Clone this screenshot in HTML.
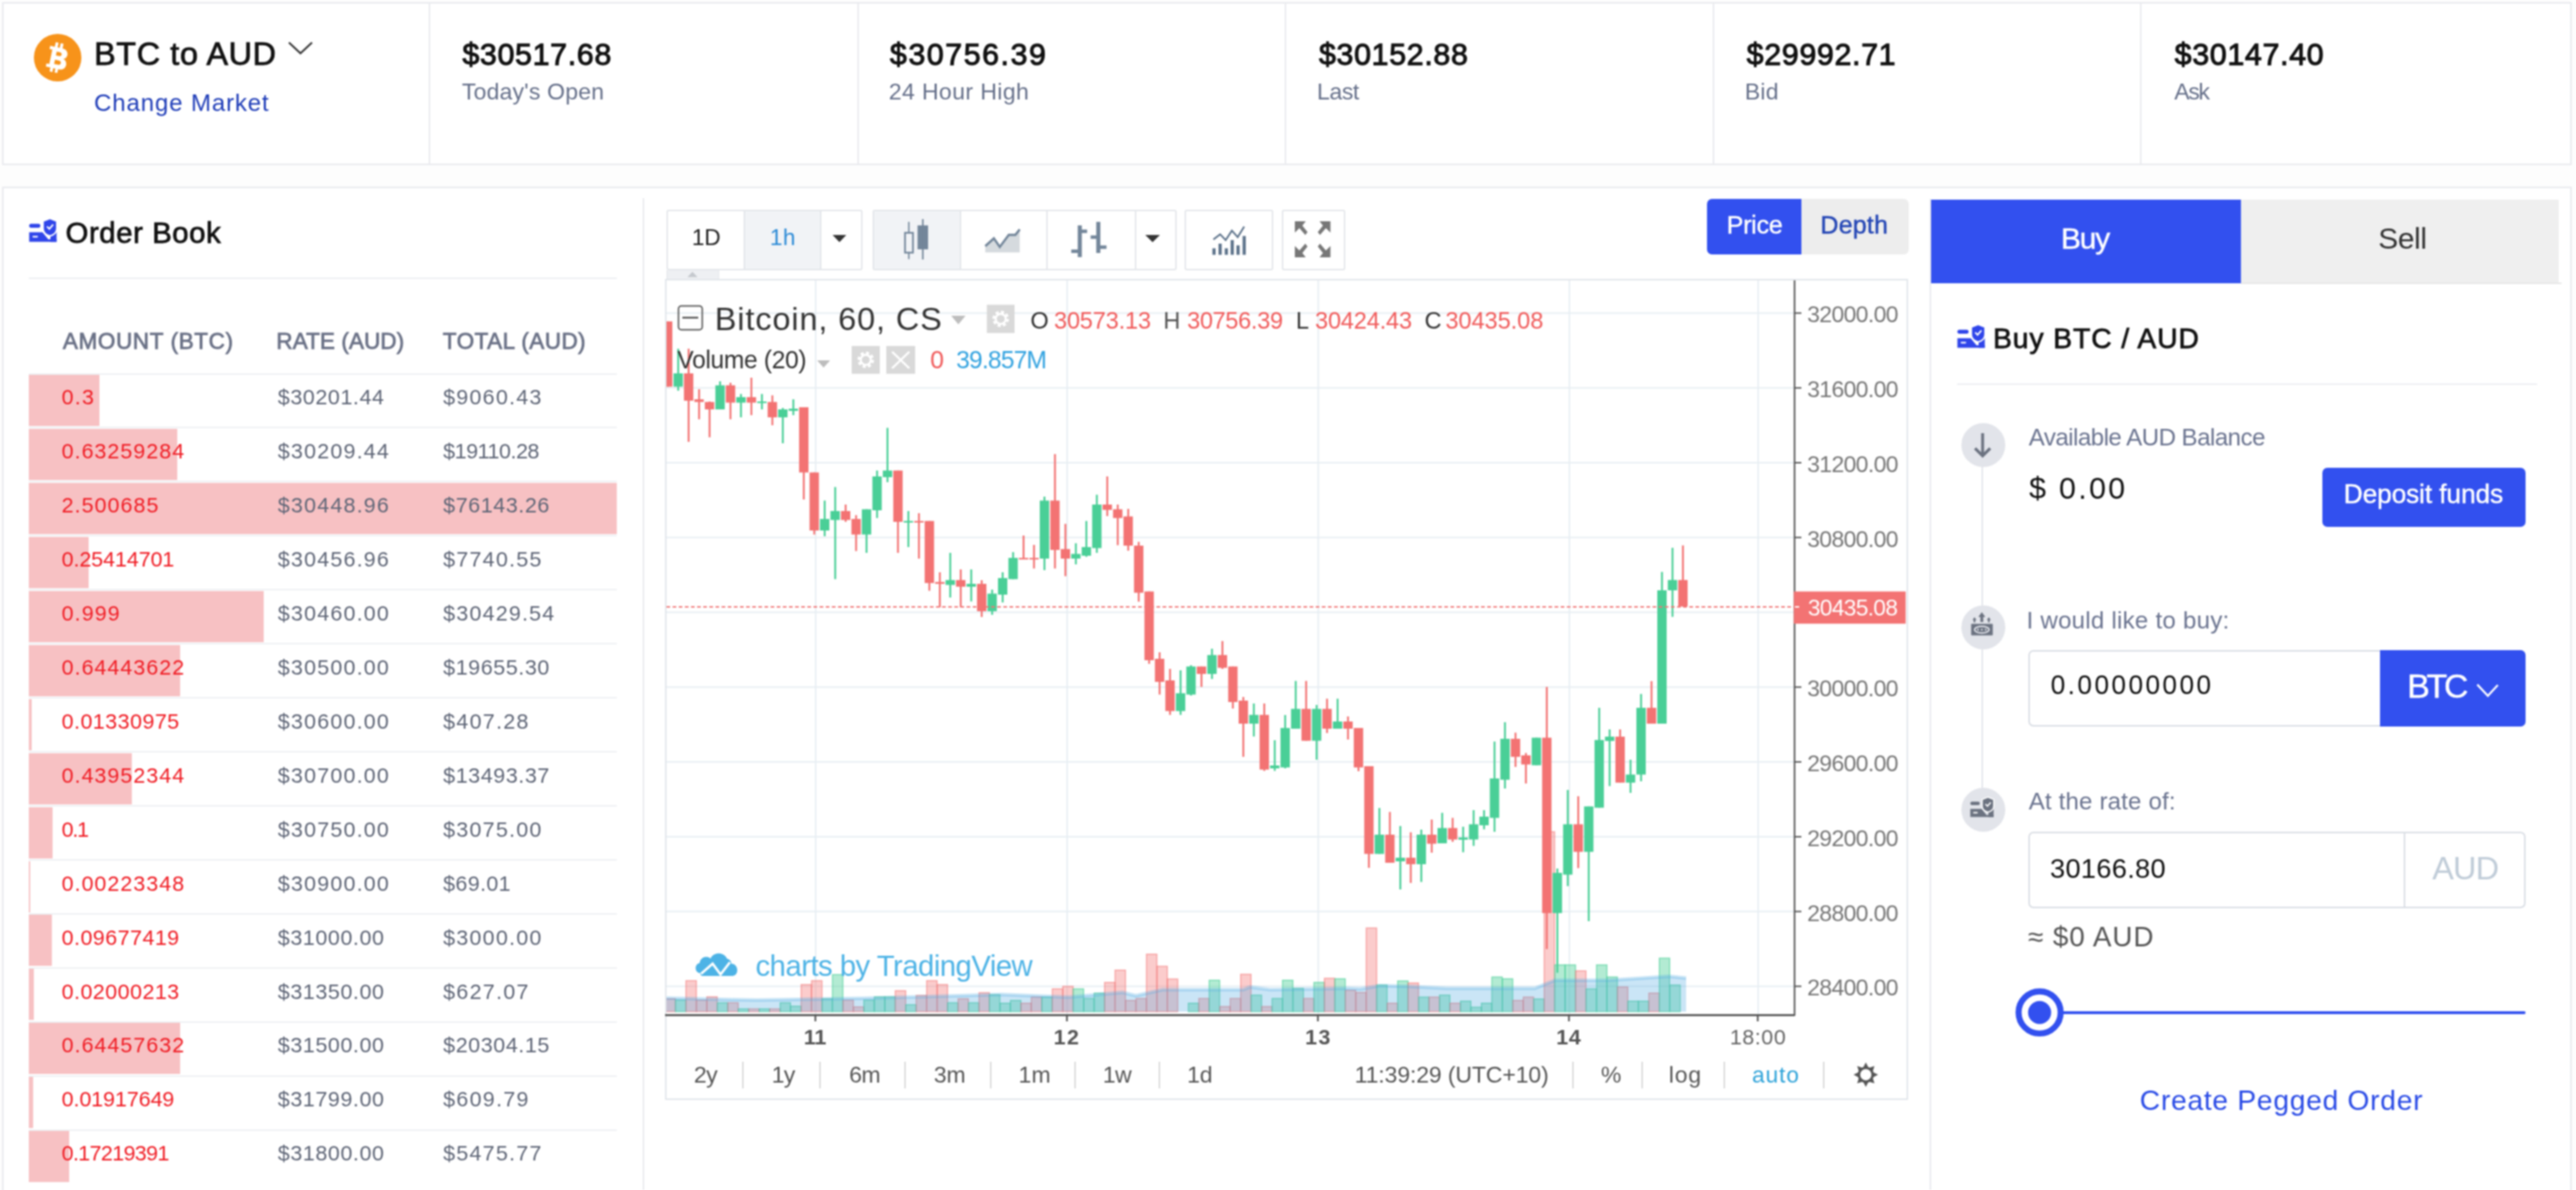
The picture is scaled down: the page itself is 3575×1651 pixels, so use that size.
<!DOCTYPE html>
<html><head><meta charset="utf-8"><title>BTC to AUD</title>
<style>
html,body{margin:0;padding:0;background:#fdfdfd;}
body{width:3575px;height:1651px;overflow:hidden;position:relative;font-family:"Liberation Sans",sans-serif;}
.a{position:absolute;}
.t{position:absolute;white-space:nowrap;line-height:100px;height:100px;}
svg.a{overflow:visible}
#wrap{position:absolute;left:0;top:0;width:3575px;height:1651px;filter:blur(0.8px);}
</style></head><body><div id="wrap">
<div class="a" style="left:3px;top:3px;width:3566px;height:226px;border:2px solid #e8e9ee;box-sizing:border-box;background:#fff"></div>
<div class="a" style="left:595px;top:4px;width:2px;height:224px;background:#e8e9ee"></div>
<div class="a" style="left:1190px;top:4px;width:2px;height:224px;background:#e8e9ee"></div>
<div class="a" style="left:1783px;top:4px;width:2px;height:224px;background:#e8e9ee"></div>
<div class="a" style="left:2377px;top:4px;width:2px;height:224px;background:#e8e9ee"></div>
<div class="a" style="left:2970px;top:4px;width:2px;height:224px;background:#e8e9ee"></div>
<svg class="a" style="left:47px;top:47px" width="66" height="66" viewBox="0 0 66 66">
<circle cx="33" cy="33" r="33" fill="#f7931a"/>
<g transform="rotate(12 33 33)" fill="#fff">
<rect x="26" y="12.5" width="4" height="8"/><rect x="33" y="12.5" width="4" height="8"/>
<rect x="26" y="46" width="4" height="8"/><rect x="33" y="46" width="4" height="8"/>
<path d="M19.5 19 H37 C47 19 48 31 41 33 C49 35 49 48.5 38 48.5 H19.5 V44 H23.5 V23.5 H19.5 Z M30 25 V30.5 H34.5 C38.5 30.5 38.5 25 34.5 25 Z M30 36.5 V42.5 H35.5 C40 42.5 40 36.5 35.5 36.5 Z" fill-rule="evenodd"/>
</g></svg>
<svg class="a" style="left:398px;top:56px" width="38" height="22" viewBox="0 0 38 22"><path d="M3 3 L19 18 L35 3" fill="none" stroke="#333" stroke-width="2.4"/></svg>
<div class="a" style="left:3px;top:259px;width:3566px;height:1400px;border:2px solid #e8e9ee;border-bottom:none;box-sizing:border-box;background:#fff"></div>
<div class="a" style="left:892px;top:275px;width:2px;height:1376px;background:#e8e9ee"></div>
<div class="a" style="left:2678px;top:276px;width:2px;height:1375px;background:#e8e9ee"></div>
<svg class="a" style="left:40px;top:302px" width="40" height="36" viewBox="0 0 40 36">
<rect x="0.5" y="8.4" width="15.5" height="5.5" rx="2.7" fill="#2f45ea"/>
<path d="M0.5 20.2 H19 L27 30 H38.5 V33.4 H0.5 Z" fill="#2f45ea"/>
<path d="M30 23 L38.5 19.5 V33.4 H30 Z" fill="#2f45ea"/>
<rect x="5" y="25.2" width="7.7" height="2.2" rx="1.1" fill="#fff"/>
<path d="M29.3 1 L38.8 4.8 V15 C38.8 20.5 34.5 24 29.3 25.5 C24.1 24 19.8 20.5 19.8 15 V4.8 Z" fill="#2f45ea" stroke="#fff" stroke-width="2"/>
<path d="M25.2 12.3 L28.5 15.6 L33.8 9.6" fill="none" stroke="#fff" stroke-width="2.2"/>
</svg>
<div class="a" style="left:40px;top:385px;width:816px;height:2px;background:#eceef2"></div>
<div class="a" style="left:40px;top:517.5px;width:816px;height:2px;background:#eef0f3"></div>
<div class="a" style="left:40px;top:520.0px;width:97.9px;height:71px;background:#f7c1c3"></div>
<div class="a" style="left:40px;top:592.4px;width:816px;height:2px;background:#eef0f3"></div>
<div class="a" style="left:40px;top:594.9px;width:206.4px;height:71px;background:#f7c1c3"></div>
<div class="a" style="left:40px;top:667.4px;width:816px;height:2px;background:#eef0f3"></div>
<div class="a" style="left:40px;top:669.9px;width:816.0px;height:71px;background:#f7c1c3"></div>
<div class="a" style="left:40px;top:742.3px;width:816px;height:2px;background:#eef0f3"></div>
<div class="a" style="left:40px;top:744.8px;width:82.9px;height:71px;background:#f7c1c3"></div>
<div class="a" style="left:40px;top:817.3px;width:816px;height:2px;background:#eef0f3"></div>
<div class="a" style="left:40px;top:819.8px;width:326.0px;height:71px;background:#f7c1c3"></div>
<div class="a" style="left:40px;top:892.2px;width:816px;height:2px;background:#eef0f3"></div>
<div class="a" style="left:40px;top:894.7px;width:210.3px;height:71px;background:#f7c1c3"></div>
<div class="a" style="left:40px;top:967.1px;width:816px;height:2px;background:#eef0f3"></div>
<div class="a" style="left:40px;top:969.6px;width:4.3px;height:71px;background:#f7c1c3"></div>
<div class="a" style="left:40px;top:1042.1px;width:816px;height:2px;background:#eef0f3"></div>
<div class="a" style="left:40px;top:1044.6px;width:143.4px;height:71px;background:#f7c1c3"></div>
<div class="a" style="left:40px;top:1117.0px;width:816px;height:2px;background:#eef0f3"></div>
<div class="a" style="left:40px;top:1119.5px;width:32.6px;height:71px;background:#f7c1c3"></div>
<div class="a" style="left:40px;top:1192.0px;width:816px;height:2px;background:#eef0f3"></div>
<div class="a" style="left:40px;top:1194.5px;width:1.5px;height:71px;background:#f7c1c3"></div>
<div class="a" style="left:40px;top:1266.9px;width:816px;height:2px;background:#eef0f3"></div>
<div class="a" style="left:40px;top:1269.4px;width:31.6px;height:71px;background:#f7c1c3"></div>
<div class="a" style="left:40px;top:1341.8px;width:816px;height:2px;background:#eef0f3"></div>
<div class="a" style="left:40px;top:1344.3px;width:6.5px;height:71px;background:#f7c1c3"></div>
<div class="a" style="left:40px;top:1416.8px;width:816px;height:2px;background:#eef0f3"></div>
<div class="a" style="left:40px;top:1419.3px;width:210.3px;height:71px;background:#f7c1c3"></div>
<div class="a" style="left:40px;top:1491.7px;width:816px;height:2px;background:#eef0f3"></div>
<div class="a" style="left:40px;top:1494.2px;width:6.3px;height:71px;background:#f7c1c3"></div>
<div class="a" style="left:40px;top:1566.7px;width:816px;height:2px;background:#eef0f3"></div>
<div class="a" style="left:40px;top:1569.2px;width:56.2px;height:71px;background:#f7c1c3"></div>
<div class="a" style="left:924.5px;top:291px;width:272.9px;height:84px;border:2px solid #e3e6ea;box-sizing:border-box;border-radius:3px;background:#fff"></div>
<div class="a" style="left:1034.2px;top:293px;width:104.0px;height:80px;background:#f1f3f6"></div>
<div class="a" style="left:1032.2px;top:293px;width:2px;height:80px;background:#e3e6ea"></div>
<div class="a" style="left:1138.2px;top:293px;width:2px;height:80px;background:#e3e6ea"></div>
<div class="a" style="left:1210.5px;top:291px;width:422.1px;height:84px;border:2px solid #e3e6ea;box-sizing:border-box;border-radius:3px;background:#fff"></div>
<div class="a" style="left:1212.5px;top:293px;width:119.1px;height:80px;background:#f1f3f6"></div>
<div class="a" style="left:1331.6px;top:293px;width:2px;height:80px;background:#e3e6ea"></div>
<div class="a" style="left:1452.3px;top:293px;width:2px;height:80px;background:#e3e6ea"></div>
<div class="a" style="left:1574.5px;top:293px;width:2px;height:80px;background:#e3e6ea"></div>
<div class="a" style="left:1644.4px;top:291px;width:122.2px;height:84px;border:2px solid #e3e6ea;box-sizing:border-box;border-radius:3px;background:#fff"></div>
<div class="a" style="left:1779px;top:291px;width:87.6px;height:84px;border:2px solid #e3e6ea;box-sizing:border-box;border-radius:3px;background:#fff"></div>
<div class="a" style="left:924.5px;top:374.5px;width:73.5px;height:13px;background:#eef0f3;border:1px solid #e2e5e9;border-top:none;box-sizing:border-box"></div>
<div class="a" style="left:2368.6px;top:275.6px;width:280.4px;height:77.4px;background:#ededed;border-radius:7px"></div>
<div class="a" style="left:2368.6px;top:275.6px;width:131.4px;height:77.4px;background:#3250ef;border-radius:7px 0 0 7px"></div>
<div class="a" style="left:923px;top:387px;width:1725px;height:1139px;border:2px solid #e1e5ea;box-sizing:border-box"></div>
<div class="a" style="left:1030px;top:1473px;width:2px;height:36.6px;background:#d8d8d8"></div>
<div class="a" style="left:1136.6px;top:1473px;width:2px;height:36.6px;background:#d8d8d8"></div>
<div class="a" style="left:1254.7px;top:1473px;width:2px;height:36.6px;background:#d8d8d8"></div>
<div class="a" style="left:1373.5px;top:1473px;width:2px;height:36.6px;background:#d8d8d8"></div>
<div class="a" style="left:1491px;top:1473px;width:2px;height:36.6px;background:#d8d8d8"></div>
<div class="a" style="left:1608px;top:1473px;width:2px;height:36.6px;background:#d8d8d8"></div>
<div class="a" style="left:2182px;top:1473px;width:2px;height:36.6px;background:#d8d8d8"></div>
<div class="a" style="left:2277.7px;top:1473px;width:2px;height:36.6px;background:#d8d8d8"></div>
<div class="a" style="left:2392px;top:1473px;width:2px;height:36.6px;background:#d8d8d8"></div>
<div class="a" style="left:2530.3px;top:1473px;width:2px;height:36.6px;background:#d8d8d8"></div>
<div class="a" style="left:2680px;top:276.8px;width:430.4px;height:116.4px;background:#3250ef"></div>
<div class="a" style="left:3110.4px;top:276.8px;width:440.4px;height:116.4px;background:#efefef"></div>
<div class="a" style="left:3110.4px;top:392.2px;width:445px;height:2px;background:#e6e6e6"></div>
<svg class="a" style="left:2716px;top:449px" width="40" height="36" viewBox="0 0 40 36">
<rect x="0.5" y="8.4" width="15.5" height="5.5" rx="2.7" fill="#2f45ea"/>
<path d="M0.5 20.2 H19 L27 30 H38.5 V33.4 H0.5 Z" fill="#2f45ea"/>
<path d="M30 23 L38.5 19.5 V33.4 H30 Z" fill="#2f45ea"/>
<rect x="5" y="25.2" width="7.7" height="2.2" rx="1.1" fill="#fff"/>
<path d="M29.3 1 L38.8 4.8 V15 C38.8 20.5 34.5 24 29.3 25.5 C24.1 24 19.8 20.5 19.8 15 V4.8 Z" fill="#2f45ea" stroke="#fff" stroke-width="2"/>
<path d="M25.2 12.3 L28.5 15.6 L33.8 9.6" fill="none" stroke="#fff" stroke-width="2.2"/>
</svg>
<div class="a" style="left:2716px;top:532px;width:805px;height:2px;background:#eceef2"></div>
<div class="a" style="left:2749.5px;top:640px;width:2.2px;height:460px;background:#e2e4ea"></div>
<div class="a" style="left:2721.5px;top:586.5px;width:61px;height:61px;background:#e2e4ea;border-radius:50%"></div>
<div class="a" style="left:2721.5px;top:839.5px;width:61px;height:61px;background:#e2e4ea;border-radius:50%"></div>
<div class="a" style="left:2721.5px;top:1092.5px;width:61px;height:61px;background:#e2e4ea;border-radius:50%"></div>
<svg class="a" style="left:2734px;top:1105px" width="34" height="31" viewBox="0 0 40 36">
<rect x="0.5" y="8.4" width="15.5" height="5.5" rx="2.7" fill="#6b7280"/>
<path d="M0.5 20.2 H19 L27 30 H38.5 V33.4 H0.5 Z" fill="#6b7280"/>
<path d="M30 23 L38.5 19.5 V33.4 H30 Z" fill="#6b7280"/>
<rect x="5" y="25.2" width="7.7" height="2.2" rx="1.1" fill="#fff"/>
<path d="M29.3 1 L38.8 4.8 V15 C38.8 20.5 34.5 24 29.3 25.5 C24.1 24 19.8 20.5 19.8 15 V4.8 Z" fill="#6b7280" stroke="#fff" stroke-width="2"/>
<path d="M25.2 12.3 L28.5 15.6 L33.8 9.6" fill="none" stroke="#fff" stroke-width="2.2"/>
</svg>
<div class="a" style="left:3223px;top:648.7px;width:282.4px;height:82.7px;background:#3250ef;border-radius:7px"></div>
<div class="a" style="left:2814.6px;top:902px;width:690px;height:106px;border:2px solid #d8dce3;border-radius:7px;box-sizing:border-box;background:#fff"></div>
<div class="a" style="left:3303px;top:902px;width:201.6px;height:106px;background:#3250ef;border-radius:0 7px 7px 0"></div>
<svg class="a" style="left:3435px;top:946px" width="34" height="22" viewBox="0 0 34 22"><path d="M3 3.7 L17.7 19.5 L31.5 4.4" fill="none" stroke="#fff" stroke-width="2.8"/></svg>
<div class="a" style="left:2814.6px;top:1154px;width:690px;height:106px;border:2px solid #d8dce3;border-radius:7px;box-sizing:border-box;background:#fff"></div>
<div class="a" style="left:3336.3px;top:1155px;width:2px;height:104px;background:#d8dce3"></div>
<div class="a" style="left:2830px;top:1402.5px;width:675px;height:4.6px;background:#3250ef;border-radius:2px"></div>
<svg class="a" style="left:2796px;top:1370px" width="70" height="70" viewBox="0 0 70 70"><circle cx="34.6" cy="34.7" r="29.2" fill="#fff" stroke="#3250ef" stroke-width="8.4"/><circle cx="34.6" cy="34.7" r="16" fill="#3250ef"/></svg>
<svg class="a" style="left:0;top:0" width="3575" height="1651" viewBox="0 0 3575 1651">
<defs><clipPath id="chartclip"><rect x="925" y="389" width="1564" height="1018"/></clipPath></defs>
<path d="M1155.5 326 H1174.5 L1165.0 336 Z" fill="#333"/>
<path d="M1589.4 326 H1609.8 L1599.6 336 Z" fill="#333"/>
<polygon points="954,384.6 968,384.6 961,377" fill="#c5c9ce"/>
<rect x="1256" y="323" width="11" height="27.5" fill="none" stroke="#73869a" stroke-width="2.4"/>
<rect x="1260.3" y="307.8" width="2" height="15" fill="#73869a"/><rect x="1260.3" y="350.5" width="2" height="9" fill="#73869a"/>
<rect x="1273.4" y="312.7" width="14.6" height="33.2" fill="#73869a"/><rect x="1279.6" y="304" width="2.2" height="56" fill="#73869a"/>
<path d="M1367.4 350.2 V341.5 L1379.3 330.7 L1387.5 342.6 L1400 325.8 H1409.2 L1415.2 318.2 V350.2 Z" fill="#d5dade"/>
<path d="M1367.4 341.5 L1379.3 330.7 L1387.5 342.6 L1400 325.8 H1409.2 L1415.2 318.2" fill="none" stroke="#73869a" stroke-width="3.2"/>
<rect x="1495.7" y="312.7" width="5.7" height="44" fill="#73869a"/><rect x="1486.7" y="346.2" width="11" height="4.8" fill="#73869a"/><rect x="1500" y="318.5" width="8.7" height="4.8" fill="#73869a"/>
<rect x="1521.4" y="307.8" width="5.7" height="43.2" fill="#73869a"/><rect x="1513.6" y="326.6" width="9" height="4.8" fill="#73869a"/><rect x="1526" y="340.5" width="9.6" height="4.8" fill="#73869a"/>
<rect x="1682.6" y="344.5" width="4.4" height="9.0" fill="#5b7189"/>
<rect x="1691.1" y="338" width="4.4" height="15.5" fill="#5b7189"/>
<rect x="1699.7" y="344.5" width="4.4" height="9.0" fill="#5b7189"/>
<rect x="1707.8999999999999" y="333.1" width="4.4" height="20.399999999999977" fill="#5b7189"/>
<rect x="1716.0" y="340.4" width="4.4" height="13.100000000000023" fill="#5b7189"/>
<rect x="1724.5" y="327.4" width="4.4" height="26.100000000000023" fill="#5b7189"/>
<path d="M1684 332.3 L1693.3 325 L1701 333.1 L1709.6 320 L1717.7 329 L1726.7 314.3" fill="none" stroke="#5b7189" stroke-width="2.4"/>
<polygon transform="translate(1821.7 332) scale(1 1)" points="-24.7,-25 -9.6,-25 -14.3,-19 -7.1,-9.9 -10.2,-6.1 -18.4,-15.6 -24.7,-9.3" fill="#777"/>
<polygon transform="translate(1821.7 332) scale(-1 1)" points="-24.7,-25 -9.6,-25 -14.3,-19 -7.1,-9.9 -10.2,-6.1 -18.4,-15.6 -24.7,-9.3" fill="#777"/>
<polygon transform="translate(1821.7 332) scale(1 -1)" points="-24.7,-25 -9.6,-25 -14.3,-19 -7.1,-9.9 -10.2,-6.1 -18.4,-15.6 -24.7,-9.3" fill="#777"/>
<polygon transform="translate(1821.7 332) scale(-1 -1)" points="-24.7,-25 -9.6,-25 -14.3,-19 -7.1,-9.9 -10.2,-6.1 -18.4,-15.6 -24.7,-9.3" fill="#777"/>
<rect x="925" y="433.4" width="1565" height="2" fill="#e7eef3"/>
<rect x="925" y="537.2" width="1565" height="2" fill="#e7eef3"/>
<rect x="925" y="641.0" width="1565" height="2" fill="#e7eef3"/>
<rect x="925" y="744.7" width="1565" height="2" fill="#e7eef3"/>
<rect x="925" y="848.5" width="1565" height="2" fill="#e7eef3"/>
<rect x="925" y="952.3" width="1565" height="2" fill="#e7eef3"/>
<rect x="925" y="1056.1" width="1565" height="2" fill="#e7eef3"/>
<rect x="925" y="1159.9" width="1565" height="2" fill="#e7eef3"/>
<rect x="925" y="1263.6" width="1565" height="2" fill="#e7eef3"/>
<rect x="925" y="1367.4" width="1565" height="2" fill="#e7eef3"/>
<rect x="1131" y="389" width="2" height="1019" fill="#e7eef3"/>
<rect x="1480" y="389" width="2" height="1019" fill="#e7eef3"/>
<rect x="1828.5" y="389" width="2" height="1019" fill="#e7eef3"/>
<rect x="2177" y="389" width="2" height="1019" fill="#e7eef3"/>
<rect x="2439" y="389" width="2" height="1019" fill="#e7eef3"/>
<g clip-path="url(#chartclip)">
<rect x="922.9" y="1385.7" width="14.4" height="17.8" fill="rgba(243,115,115,0.36)" stroke="rgba(243,115,115,0.55)" stroke-width="1.6"/>
<rect x="937.5" y="1387.6" width="14.4" height="15.9" fill="rgba(74,207,151,0.42)" stroke="rgba(74,207,151,0.62)" stroke-width="1.6"/>
<rect x="952.0" y="1360.6" width="14.4" height="42.9" fill="rgba(243,115,115,0.36)" stroke="rgba(243,115,115,0.55)" stroke-width="1.6"/>
<rect x="966.5" y="1387.6" width="14.4" height="15.9" fill="rgba(243,115,115,0.36)" stroke="rgba(243,115,115,0.55)" stroke-width="1.6"/>
<rect x="981.0" y="1383.0" width="14.4" height="20.5" fill="rgba(243,115,115,0.36)" stroke="rgba(243,115,115,0.55)" stroke-width="1.6"/>
<rect x="995.6" y="1391.3" width="14.4" height="12.2" fill="rgba(74,207,151,0.42)" stroke="rgba(74,207,151,0.62)" stroke-width="1.6"/>
<rect x="1010.1" y="1391.3" width="14.4" height="12.2" fill="rgba(243,115,115,0.36)" stroke="rgba(243,115,115,0.55)" stroke-width="1.6"/>
<rect x="1024.6" y="1399.7" width="14.4" height="3.8" fill="rgba(74,207,151,0.42)" stroke="rgba(74,207,151,0.62)" stroke-width="1.6"/>
<rect x="1039.1" y="1399.7" width="14.4" height="3.8" fill="rgba(243,115,115,0.36)" stroke="rgba(243,115,115,0.55)" stroke-width="1.6"/>
<rect x="1053.7" y="1399.7" width="14.4" height="3.8" fill="rgba(74,207,151,0.42)" stroke="rgba(74,207,151,0.62)" stroke-width="1.6"/>
<rect x="1068.2" y="1399.7" width="14.4" height="3.8" fill="rgba(243,115,115,0.36)" stroke="rgba(243,115,115,0.55)" stroke-width="1.6"/>
<rect x="1082.7" y="1391.3" width="14.4" height="12.2" fill="rgba(74,207,151,0.42)" stroke="rgba(74,207,151,0.62)" stroke-width="1.6"/>
<rect x="1097.2" y="1396.0" width="14.4" height="7.5" fill="rgba(74,207,151,0.42)" stroke="rgba(74,207,151,0.62)" stroke-width="1.6"/>
<rect x="1111.8" y="1366.0" width="14.4" height="37.5" fill="rgba(243,115,115,0.36)" stroke="rgba(243,115,115,0.55)" stroke-width="1.6"/>
<rect x="1126.3" y="1360.6" width="14.4" height="42.9" fill="rgba(243,115,115,0.36)" stroke="rgba(243,115,115,0.55)" stroke-width="1.6"/>
<rect x="1140.8" y="1385.7" width="14.4" height="17.8" fill="rgba(74,207,151,0.42)" stroke="rgba(74,207,151,0.62)" stroke-width="1.6"/>
<rect x="1155.3" y="1352.2" width="14.4" height="51.3" fill="rgba(74,207,151,0.42)" stroke="rgba(74,207,151,0.62)" stroke-width="1.6"/>
<rect x="1169.9" y="1387.6" width="14.4" height="15.9" fill="rgba(243,115,115,0.36)" stroke="rgba(243,115,115,0.55)" stroke-width="1.6"/>
<rect x="1184.4" y="1397.0" width="14.4" height="6.5" fill="rgba(243,115,115,0.36)" stroke="rgba(243,115,115,0.55)" stroke-width="1.6"/>
<rect x="1198.9" y="1387.6" width="14.4" height="15.9" fill="rgba(74,207,151,0.42)" stroke="rgba(74,207,151,0.62)" stroke-width="1.6"/>
<rect x="1213.5" y="1383.0" width="14.4" height="20.5" fill="rgba(74,207,151,0.42)" stroke="rgba(74,207,151,0.62)" stroke-width="1.6"/>
<rect x="1228.0" y="1383.0" width="14.4" height="20.5" fill="rgba(74,207,151,0.42)" stroke="rgba(74,207,151,0.62)" stroke-width="1.6"/>
<rect x="1242.5" y="1374.5" width="14.4" height="29.0" fill="rgba(243,115,115,0.36)" stroke="rgba(243,115,115,0.55)" stroke-width="1.6"/>
<rect x="1257.0" y="1394.0" width="14.4" height="9.5" fill="rgba(74,207,151,0.42)" stroke="rgba(74,207,151,0.62)" stroke-width="1.6"/>
<rect x="1271.5" y="1381.0" width="14.4" height="22.5" fill="rgba(243,115,115,0.36)" stroke="rgba(243,115,115,0.55)" stroke-width="1.6"/>
<rect x="1286.1" y="1360.6" width="14.4" height="42.9" fill="rgba(243,115,115,0.36)" stroke="rgba(243,115,115,0.55)" stroke-width="1.6"/>
<rect x="1300.6" y="1366.0" width="14.4" height="37.5" fill="rgba(243,115,115,0.36)" stroke="rgba(243,115,115,0.55)" stroke-width="1.6"/>
<rect x="1315.1" y="1391.3" width="14.4" height="12.2" fill="rgba(74,207,151,0.42)" stroke="rgba(74,207,151,0.62)" stroke-width="1.6"/>
<rect x="1329.6" y="1385.7" width="14.4" height="17.8" fill="rgba(243,115,115,0.36)" stroke="rgba(243,115,115,0.55)" stroke-width="1.6"/>
<rect x="1344.2" y="1391.3" width="14.4" height="12.2" fill="rgba(74,207,151,0.42)" stroke="rgba(74,207,151,0.62)" stroke-width="1.6"/>
<rect x="1358.7" y="1377.3" width="14.4" height="26.2" fill="rgba(243,115,115,0.36)" stroke="rgba(243,115,115,0.55)" stroke-width="1.6"/>
<rect x="1373.2" y="1380.0" width="14.4" height="23.5" fill="rgba(74,207,151,0.42)" stroke="rgba(74,207,151,0.62)" stroke-width="1.6"/>
<rect x="1387.8" y="1391.8" width="14.4" height="11.7" fill="rgba(74,207,151,0.42)" stroke="rgba(74,207,151,0.62)" stroke-width="1.6"/>
<rect x="1402.3" y="1388.0" width="14.4" height="15.5" fill="rgba(74,207,151,0.42)" stroke="rgba(74,207,151,0.62)" stroke-width="1.6"/>
<rect x="1416.8" y="1391.8" width="14.4" height="11.7" fill="rgba(243,115,115,0.36)" stroke="rgba(243,115,115,0.55)" stroke-width="1.6"/>
<rect x="1431.3" y="1383.4" width="14.4" height="20.1" fill="rgba(243,115,115,0.36)" stroke="rgba(243,115,115,0.55)" stroke-width="1.6"/>
<rect x="1445.8" y="1383.4" width="14.4" height="20.1" fill="rgba(74,207,151,0.42)" stroke="rgba(74,207,151,0.62)" stroke-width="1.6"/>
<rect x="1460.4" y="1372.0" width="14.4" height="31.5" fill="rgba(243,115,115,0.36)" stroke="rgba(243,115,115,0.55)" stroke-width="1.6"/>
<rect x="1474.9" y="1368.5" width="14.4" height="35.0" fill="rgba(243,115,115,0.36)" stroke="rgba(243,115,115,0.55)" stroke-width="1.6"/>
<rect x="1489.4" y="1372.0" width="14.4" height="31.5" fill="rgba(74,207,151,0.42)" stroke="rgba(74,207,151,0.62)" stroke-width="1.6"/>
<rect x="1504.0" y="1385.3" width="14.4" height="18.2" fill="rgba(74,207,151,0.42)" stroke="rgba(74,207,151,0.62)" stroke-width="1.6"/>
<rect x="1518.5" y="1377.8" width="14.4" height="25.7" fill="rgba(74,207,151,0.42)" stroke="rgba(74,207,151,0.62)" stroke-width="1.6"/>
<rect x="1533.0" y="1363.0" width="14.4" height="40.5" fill="rgba(243,115,115,0.36)" stroke="rgba(243,115,115,0.55)" stroke-width="1.6"/>
<rect x="1547.5" y="1346.0" width="14.4" height="57.5" fill="rgba(243,115,115,0.36)" stroke="rgba(243,115,115,0.55)" stroke-width="1.6"/>
<rect x="1562.0" y="1388.0" width="14.4" height="15.5" fill="rgba(243,115,115,0.36)" stroke="rgba(243,115,115,0.55)" stroke-width="1.6"/>
<rect x="1576.6" y="1385.3" width="14.4" height="18.2" fill="rgba(243,115,115,0.36)" stroke="rgba(243,115,115,0.55)" stroke-width="1.6"/>
<rect x="1591.1" y="1323.8" width="14.4" height="79.7" fill="rgba(243,115,115,0.36)" stroke="rgba(243,115,115,0.55)" stroke-width="1.6"/>
<rect x="1605.6" y="1340.6" width="14.4" height="62.9" fill="rgba(243,115,115,0.36)" stroke="rgba(243,115,115,0.55)" stroke-width="1.6"/>
<rect x="1620.1" y="1358.3" width="14.4" height="45.2" fill="rgba(243,115,115,0.36)" stroke="rgba(243,115,115,0.55)" stroke-width="1.6"/>
<rect x="1634.7" y="1403.5" width="14.4" height="0.0" fill="rgba(74,207,151,0.42)" stroke="rgba(74,207,151,0.62)" stroke-width="1.6"/>
<rect x="1649.2" y="1391.8" width="14.4" height="11.7" fill="rgba(74,207,151,0.42)" stroke="rgba(74,207,151,0.62)" stroke-width="1.6"/>
<rect x="1663.7" y="1385.3" width="14.4" height="18.2" fill="rgba(243,115,115,0.36)" stroke="rgba(243,115,115,0.55)" stroke-width="1.6"/>
<rect x="1678.2" y="1360.0" width="14.4" height="43.5" fill="rgba(74,207,151,0.42)" stroke="rgba(74,207,151,0.62)" stroke-width="1.6"/>
<rect x="1692.8" y="1396.5" width="14.4" height="7.0" fill="rgba(243,115,115,0.36)" stroke="rgba(243,115,115,0.55)" stroke-width="1.6"/>
<rect x="1707.3" y="1385.3" width="14.4" height="18.2" fill="rgba(243,115,115,0.36)" stroke="rgba(243,115,115,0.55)" stroke-width="1.6"/>
<rect x="1721.8" y="1351.7" width="14.4" height="51.8" fill="rgba(243,115,115,0.36)" stroke="rgba(243,115,115,0.55)" stroke-width="1.6"/>
<rect x="1736.4" y="1380.6" width="14.4" height="22.9" fill="rgba(74,207,151,0.42)" stroke="rgba(74,207,151,0.62)" stroke-width="1.6"/>
<rect x="1750.9" y="1396.5" width="14.4" height="7.0" fill="rgba(243,115,115,0.36)" stroke="rgba(243,115,115,0.55)" stroke-width="1.6"/>
<rect x="1765.4" y="1385.3" width="14.4" height="18.2" fill="rgba(74,207,151,0.42)" stroke="rgba(74,207,151,0.62)" stroke-width="1.6"/>
<rect x="1779.9" y="1360.0" width="14.4" height="43.5" fill="rgba(74,207,151,0.42)" stroke="rgba(74,207,151,0.62)" stroke-width="1.6"/>
<rect x="1794.5" y="1371.3" width="14.4" height="32.2" fill="rgba(74,207,151,0.42)" stroke="rgba(74,207,151,0.62)" stroke-width="1.6"/>
<rect x="1809.0" y="1385.3" width="14.4" height="18.2" fill="rgba(243,115,115,0.36)" stroke="rgba(243,115,115,0.55)" stroke-width="1.6"/>
<rect x="1823.5" y="1363.0" width="14.4" height="40.5" fill="rgba(74,207,151,0.42)" stroke="rgba(74,207,151,0.62)" stroke-width="1.6"/>
<rect x="1838.0" y="1357.3" width="14.4" height="46.2" fill="rgba(243,115,115,0.36)" stroke="rgba(243,115,115,0.55)" stroke-width="1.6"/>
<rect x="1852.5" y="1358.0" width="14.4" height="45.5" fill="rgba(74,207,151,0.42)" stroke="rgba(74,207,151,0.62)" stroke-width="1.6"/>
<rect x="1867.1" y="1374.0" width="14.4" height="29.5" fill="rgba(243,115,115,0.36)" stroke="rgba(243,115,115,0.55)" stroke-width="1.6"/>
<rect x="1881.6" y="1377.0" width="14.4" height="26.5" fill="rgba(243,115,115,0.36)" stroke="rgba(243,115,115,0.55)" stroke-width="1.6"/>
<rect x="1896.1" y="1287.5" width="14.4" height="116.0" fill="rgba(243,115,115,0.36)" stroke="rgba(243,115,115,0.55)" stroke-width="1.6"/>
<rect x="1910.6" y="1366.6" width="14.4" height="36.9" fill="rgba(74,207,151,0.42)" stroke="rgba(74,207,151,0.62)" stroke-width="1.6"/>
<rect x="1925.2" y="1391.8" width="14.4" height="11.7" fill="rgba(243,115,115,0.36)" stroke="rgba(243,115,115,0.55)" stroke-width="1.6"/>
<rect x="1939.7" y="1361.0" width="14.4" height="42.5" fill="rgba(74,207,151,0.42)" stroke="rgba(74,207,151,0.62)" stroke-width="1.6"/>
<rect x="1954.2" y="1363.8" width="14.4" height="39.7" fill="rgba(243,115,115,0.36)" stroke="rgba(243,115,115,0.55)" stroke-width="1.6"/>
<rect x="1968.8" y="1383.4" width="14.4" height="20.1" fill="rgba(74,207,151,0.42)" stroke="rgba(74,207,151,0.62)" stroke-width="1.6"/>
<rect x="1983.3" y="1383.4" width="14.4" height="20.1" fill="rgba(243,115,115,0.36)" stroke="rgba(243,115,115,0.55)" stroke-width="1.6"/>
<rect x="1997.8" y="1380.6" width="14.4" height="22.9" fill="rgba(74,207,151,0.42)" stroke="rgba(74,207,151,0.62)" stroke-width="1.6"/>
<rect x="2012.3" y="1391.8" width="14.4" height="11.7" fill="rgba(243,115,115,0.36)" stroke="rgba(243,115,115,0.55)" stroke-width="1.6"/>
<rect x="2026.9" y="1389.0" width="14.4" height="14.5" fill="rgba(74,207,151,0.42)" stroke="rgba(74,207,151,0.62)" stroke-width="1.6"/>
<rect x="2041.4" y="1397.4" width="14.4" height="6.1" fill="rgba(74,207,151,0.42)" stroke="rgba(74,207,151,0.62)" stroke-width="1.6"/>
<rect x="2055.9" y="1391.8" width="14.4" height="11.7" fill="rgba(74,207,151,0.42)" stroke="rgba(74,207,151,0.62)" stroke-width="1.6"/>
<rect x="2070.4" y="1355.5" width="14.4" height="48.0" fill="rgba(74,207,151,0.42)" stroke="rgba(74,207,151,0.62)" stroke-width="1.6"/>
<rect x="2085.0" y="1358.0" width="14.4" height="45.5" fill="rgba(74,207,151,0.42)" stroke="rgba(74,207,151,0.62)" stroke-width="1.6"/>
<rect x="2099.5" y="1388.0" width="14.4" height="15.5" fill="rgba(243,115,115,0.36)" stroke="rgba(243,115,115,0.55)" stroke-width="1.6"/>
<rect x="2114.0" y="1383.4" width="14.4" height="20.1" fill="rgba(243,115,115,0.36)" stroke="rgba(243,115,115,0.55)" stroke-width="1.6"/>
<rect x="2128.5" y="1386.0" width="14.4" height="17.5" fill="rgba(74,207,151,0.42)" stroke="rgba(74,207,151,0.62)" stroke-width="1.6"/>
<rect x="2143.1" y="1154.0" width="14.4" height="249.5" fill="rgba(243,115,115,0.36)" stroke="rgba(243,115,115,0.55)" stroke-width="1.6"/>
<rect x="2157.6" y="1338.7" width="14.4" height="64.8" fill="rgba(74,207,151,0.42)" stroke="rgba(74,207,151,0.62)" stroke-width="1.6"/>
<rect x="2172.1" y="1338.7" width="14.4" height="64.8" fill="rgba(74,207,151,0.42)" stroke="rgba(74,207,151,0.62)" stroke-width="1.6"/>
<rect x="2186.6" y="1347.0" width="14.4" height="56.5" fill="rgba(243,115,115,0.36)" stroke="rgba(243,115,115,0.55)" stroke-width="1.6"/>
<rect x="2201.2" y="1372.0" width="14.4" height="31.5" fill="rgba(74,207,151,0.42)" stroke="rgba(74,207,151,0.62)" stroke-width="1.6"/>
<rect x="2215.7" y="1338.7" width="14.4" height="64.8" fill="rgba(74,207,151,0.42)" stroke="rgba(74,207,151,0.62)" stroke-width="1.6"/>
<rect x="2230.2" y="1355.5" width="14.4" height="48.0" fill="rgba(74,207,151,0.42)" stroke="rgba(74,207,151,0.62)" stroke-width="1.6"/>
<rect x="2244.7" y="1369.4" width="14.4" height="34.1" fill="rgba(243,115,115,0.36)" stroke="rgba(243,115,115,0.55)" stroke-width="1.6"/>
<rect x="2259.2" y="1389.0" width="14.4" height="14.5" fill="rgba(74,207,151,0.42)" stroke="rgba(74,207,151,0.62)" stroke-width="1.6"/>
<rect x="2273.8" y="1389.0" width="14.4" height="14.5" fill="rgba(74,207,151,0.42)" stroke="rgba(74,207,151,0.62)" stroke-width="1.6"/>
<rect x="2288.3" y="1377.8" width="14.4" height="25.7" fill="rgba(243,115,115,0.36)" stroke="rgba(243,115,115,0.55)" stroke-width="1.6"/>
<rect x="2302.8" y="1329.4" width="14.4" height="74.1" fill="rgba(74,207,151,0.42)" stroke="rgba(74,207,151,0.62)" stroke-width="1.6"/>
<rect x="2317.4" y="1366.6" width="14.4" height="36.9" fill="rgba(74,207,151,0.42)" stroke="rgba(74,207,151,0.62)" stroke-width="1.6"/>
<polygon points="923,1403.5 923,1384.8 1050,1387.6 1200,1385 1390,1379.7 1483,1383.4 1557.7,1376.9 1576.3,1381.5 1613.6,1373 1725.4,1373 1734.7,1369.4 1762.7,1373 1870,1371.3 1888,1372 1916,1367.6 1953,1368.5 2009,1371.3 2130,1371.3 2158,1360 2232.6,1360 2316.5,1354.5 2340,1357 2340,1403.5" fill="rgba(80,170,225,0.30)"/>
<polyline points="923,1384.8 1050,1387.6 1200,1385 1390,1379.7 1483,1383.4 1557.7,1376.9 1576.3,1381.5 1613.6,1373 1725.4,1373 1734.7,1369.4 1762.7,1373 1870,1371.3 1888,1372 1916,1367.6 1953,1368.5 2009,1371.3 2130,1371.3 2158,1360 2232.6,1360 2316.5,1354.5 2340,1357" fill="none" stroke="rgba(80,170,225,0.30)" stroke-width="5"/>
<rect x="925.4" y="445.9" width="2.6" height="90.6" fill="#f37373"/>
<rect x="920.1" y="445.9" width="13" height="90.6" fill="#f37373"/>
<rect x="939.9" y="483.8" width="2.6" height="58.2" fill="#4acf97"/>
<rect x="934.7" y="518.0" width="13" height="18.5" fill="#4acf97"/>
<rect x="954.4" y="483.8" width="2.6" height="129.2" fill="#f37373"/>
<rect x="949.2" y="518.0" width="13" height="37.9" fill="#f37373"/>
<rect x="968.9" y="540.0" width="2.6" height="41.7" fill="#f37373"/>
<rect x="963.7" y="554.0" width="13" height="3.7" fill="#f37373"/>
<rect x="983.5" y="557.0" width="2.6" height="49.7" fill="#f37373"/>
<rect x="978.2" y="557.7" width="13" height="10.3" fill="#f37373"/>
<rect x="998.0" y="529.0" width="2.6" height="39.0" fill="#4acf97"/>
<rect x="992.8" y="534.6" width="13" height="33.4" fill="#4acf97"/>
<rect x="1012.5" y="531.0" width="2.6" height="50.7" fill="#f37373"/>
<rect x="1007.3" y="534.6" width="13" height="24.0" fill="#f37373"/>
<rect x="1027.0" y="546.6" width="2.6" height="32.4" fill="#4acf97"/>
<rect x="1021.8" y="551.0" width="13" height="7.6" fill="#4acf97"/>
<rect x="1041.5" y="524.0" width="2.6" height="52.0" fill="#f37373"/>
<rect x="1036.3" y="551.0" width="13" height="7.6" fill="#f37373"/>
<rect x="1056.1" y="546.6" width="2.6" height="21.4" fill="#4acf97"/>
<rect x="1050.9" y="557.0" width="13" height="2.2" fill="#4acf97"/>
<rect x="1070.6" y="548.5" width="2.6" height="41.5" fill="#f37373"/>
<rect x="1065.4" y="557.7" width="13" height="21.3" fill="#f37373"/>
<rect x="1085.1" y="566.0" width="2.6" height="49.0" fill="#4acf97"/>
<rect x="1079.9" y="568.0" width="13" height="11.0" fill="#4acf97"/>
<rect x="1099.7" y="554.0" width="2.6" height="22.0" fill="#4acf97"/>
<rect x="1094.5" y="567.0" width="13" height="3.0" fill="#4acf97"/>
<rect x="1114.2" y="565.0" width="2.6" height="128.0" fill="#f37373"/>
<rect x="1109.0" y="565.0" width="13" height="90.5" fill="#f37373"/>
<rect x="1128.7" y="655.5" width="2.6" height="86.1" fill="#f37373"/>
<rect x="1123.5" y="655.5" width="13" height="80.5" fill="#f37373"/>
<rect x="1143.2" y="694.5" width="2.6" height="49.5" fill="#4acf97"/>
<rect x="1138.0" y="720.0" width="13" height="16.0" fill="#4acf97"/>
<rect x="1157.8" y="675.7" width="2.6" height="127.8" fill="#4acf97"/>
<rect x="1152.5" y="709.0" width="13" height="12.4" fill="#4acf97"/>
<rect x="1172.3" y="700.0" width="2.6" height="24.0" fill="#f37373"/>
<rect x="1167.1" y="709.0" width="13" height="12.4" fill="#f37373"/>
<rect x="1186.8" y="714.7" width="2.6" height="49.8" fill="#f37373"/>
<rect x="1181.6" y="720.0" width="13" height="21.6" fill="#f37373"/>
<rect x="1201.3" y="706.6" width="2.6" height="60.4" fill="#4acf97"/>
<rect x="1196.1" y="706.6" width="13" height="35.0" fill="#4acf97"/>
<rect x="1215.9" y="652.8" width="2.6" height="65.9" fill="#4acf97"/>
<rect x="1210.7" y="661.0" width="13" height="47.0" fill="#4acf97"/>
<rect x="1230.4" y="593.6" width="2.6" height="75.4" fill="#4acf97"/>
<rect x="1225.2" y="652.8" width="13" height="9.2" fill="#4acf97"/>
<rect x="1244.9" y="652.8" width="2.6" height="114.2" fill="#f37373"/>
<rect x="1239.7" y="652.8" width="13" height="71.2" fill="#f37373"/>
<rect x="1259.4" y="709.0" width="2.6" height="50.0" fill="#4acf97"/>
<rect x="1254.2" y="722.8" width="13" height="2.2" fill="#4acf97"/>
<rect x="1274.0" y="712.0" width="2.6" height="63.0" fill="#f37373"/>
<rect x="1268.8" y="722.8" width="13" height="2.2" fill="#f37373"/>
<rect x="1288.5" y="722.8" width="2.6" height="96.8" fill="#f37373"/>
<rect x="1283.3" y="722.8" width="13" height="86.1" fill="#f37373"/>
<rect x="1303.0" y="794.0" width="2.6" height="48.5" fill="#f37373"/>
<rect x="1297.8" y="807.5" width="13" height="2.5" fill="#f37373"/>
<rect x="1317.5" y="767.0" width="2.6" height="62.0" fill="#4acf97"/>
<rect x="1312.3" y="804.8" width="13" height="6.7" fill="#4acf97"/>
<rect x="1332.0" y="790.0" width="2.6" height="52.5" fill="#f37373"/>
<rect x="1326.8" y="804.8" width="13" height="9.2" fill="#f37373"/>
<rect x="1346.6" y="790.0" width="2.6" height="44.4" fill="#4acf97"/>
<rect x="1341.4" y="810.0" width="13" height="4.0" fill="#4acf97"/>
<rect x="1361.1" y="805.0" width="2.6" height="51.0" fill="#f37373"/>
<rect x="1355.9" y="810.0" width="13" height="38.0" fill="#f37373"/>
<rect x="1375.6" y="818.0" width="2.6" height="35.0" fill="#4acf97"/>
<rect x="1370.4" y="823.6" width="13" height="24.4" fill="#4acf97"/>
<rect x="1390.2" y="794.0" width="2.6" height="41.8" fill="#4acf97"/>
<rect x="1385.0" y="802.0" width="13" height="23.0" fill="#4acf97"/>
<rect x="1404.7" y="766.0" width="2.6" height="37.5" fill="#4acf97"/>
<rect x="1399.5" y="774.0" width="13" height="29.5" fill="#4acf97"/>
<rect x="1419.2" y="743.0" width="2.6" height="32.5" fill="#f37373"/>
<rect x="1414.0" y="774.0" width="13" height="2.2" fill="#f37373"/>
<rect x="1433.7" y="756.0" width="2.6" height="32.7" fill="#f37373"/>
<rect x="1428.5" y="774.0" width="13" height="2.2" fill="#f37373"/>
<rect x="1448.2" y="689.0" width="2.6" height="102.0" fill="#4acf97"/>
<rect x="1443.0" y="694.5" width="13" height="80.5" fill="#4acf97"/>
<rect x="1462.8" y="630.0" width="2.6" height="158.7" fill="#f37373"/>
<rect x="1457.6" y="694.5" width="13" height="68.5" fill="#f37373"/>
<rect x="1477.3" y="726.8" width="2.6" height="72.6" fill="#f37373"/>
<rect x="1472.1" y="761.8" width="13" height="13.2" fill="#f37373"/>
<rect x="1491.8" y="753.7" width="2.6" height="29.3" fill="#4acf97"/>
<rect x="1486.6" y="768.5" width="13" height="6.5" fill="#4acf97"/>
<rect x="1506.4" y="722.8" width="2.6" height="49.7" fill="#4acf97"/>
<rect x="1501.2" y="759.0" width="13" height="12.0" fill="#4acf97"/>
<rect x="1520.9" y="686.4" width="2.6" height="80.6" fill="#4acf97"/>
<rect x="1515.7" y="700.0" width="13" height="60.4" fill="#4acf97"/>
<rect x="1535.4" y="661.0" width="2.6" height="55.0" fill="#f37373"/>
<rect x="1530.2" y="700.0" width="13" height="7.4" fill="#f37373"/>
<rect x="1549.9" y="700.0" width="2.6" height="56.4" fill="#f37373"/>
<rect x="1544.7" y="706.6" width="13" height="12.1" fill="#f37373"/>
<rect x="1564.5" y="706.0" width="2.6" height="58.0" fill="#f37373"/>
<rect x="1559.2" y="716.5" width="13" height="40.5" fill="#f37373"/>
<rect x="1579.0" y="751.8" width="2.6" height="82.9" fill="#f37373"/>
<rect x="1573.8" y="757.0" width="13" height="65.4" fill="#f37373"/>
<rect x="1593.5" y="820.6" width="2.6" height="100.4" fill="#f37373"/>
<rect x="1588.3" y="820.6" width="13" height="95.4" fill="#f37373"/>
<rect x="1608.0" y="905.0" width="2.6" height="58.6" fill="#f37373"/>
<rect x="1602.8" y="914.0" width="13" height="32.0" fill="#f37373"/>
<rect x="1622.5" y="928.0" width="2.6" height="63.8" fill="#f37373"/>
<rect x="1617.3" y="944.0" width="13" height="42.5" fill="#f37373"/>
<rect x="1637.1" y="930.0" width="2.6" height="61.8" fill="#4acf97"/>
<rect x="1631.9" y="961.8" width="13" height="24.7" fill="#4acf97"/>
<rect x="1651.6" y="923.0" width="2.6" height="42.0" fill="#4acf97"/>
<rect x="1646.4" y="924.7" width="13" height="38.9" fill="#4acf97"/>
<rect x="1666.1" y="924.7" width="2.6" height="28.3" fill="#f37373"/>
<rect x="1660.9" y="924.7" width="13" height="10.3" fill="#f37373"/>
<rect x="1680.7" y="900.0" width="2.6" height="42.0" fill="#4acf97"/>
<rect x="1675.5" y="908.8" width="13" height="26.2" fill="#4acf97"/>
<rect x="1695.2" y="889.4" width="2.6" height="38.6" fill="#f37373"/>
<rect x="1690.0" y="908.8" width="13" height="17.7" fill="#f37373"/>
<rect x="1709.7" y="924.7" width="2.6" height="58.3" fill="#f37373"/>
<rect x="1704.5" y="924.7" width="13" height="49.3" fill="#f37373"/>
<rect x="1724.2" y="967.0" width="2.6" height="83.0" fill="#f37373"/>
<rect x="1719.0" y="972.0" width="13" height="32.0" fill="#f37373"/>
<rect x="1738.8" y="976.0" width="2.6" height="45.8" fill="#4acf97"/>
<rect x="1733.6" y="991.8" width="13" height="12.2" fill="#4acf97"/>
<rect x="1753.3" y="976.0" width="2.6" height="93.5" fill="#f37373"/>
<rect x="1748.1" y="991.8" width="13" height="75.9" fill="#f37373"/>
<rect x="1767.8" y="1027.0" width="2.6" height="42.5" fill="#4acf97"/>
<rect x="1762.6" y="1062.0" width="13" height="4.0" fill="#4acf97"/>
<rect x="1782.3" y="992.0" width="2.6" height="74.0" fill="#4acf97"/>
<rect x="1777.1" y="1010.0" width="13" height="54.7" fill="#4acf97"/>
<rect x="1796.9" y="944.7" width="2.6" height="66.3" fill="#4acf97"/>
<rect x="1791.7" y="983.5" width="13" height="27.5" fill="#4acf97"/>
<rect x="1811.4" y="944.7" width="2.6" height="83.0" fill="#f37373"/>
<rect x="1806.2" y="983.5" width="13" height="44.2" fill="#f37373"/>
<rect x="1825.9" y="978.0" width="2.6" height="76.0" fill="#4acf97"/>
<rect x="1820.7" y="983.5" width="13" height="44.2" fill="#4acf97"/>
<rect x="1840.4" y="969.4" width="2.6" height="47.6" fill="#f37373"/>
<rect x="1835.2" y="983.5" width="13" height="27.5" fill="#f37373"/>
<rect x="1855.0" y="969.4" width="2.6" height="41.6" fill="#4acf97"/>
<rect x="1849.8" y="1001.0" width="13" height="10.0" fill="#4acf97"/>
<rect x="1869.5" y="994.0" width="2.6" height="32.0" fill="#f37373"/>
<rect x="1864.3" y="1001.0" width="13" height="10.0" fill="#f37373"/>
<rect x="1884.0" y="1010.0" width="2.6" height="60.0" fill="#f37373"/>
<rect x="1878.8" y="1010.0" width="13" height="54.7" fill="#f37373"/>
<rect x="1898.5" y="1063.0" width="2.6" height="141.0" fill="#f37373"/>
<rect x="1893.3" y="1063.0" width="13" height="121.7" fill="#f37373"/>
<rect x="1913.0" y="1121.0" width="2.6" height="63.7" fill="#4acf97"/>
<rect x="1907.8" y="1158.0" width="13" height="26.7" fill="#4acf97"/>
<rect x="1927.6" y="1126.5" width="2.6" height="70.5" fill="#f37373"/>
<rect x="1922.4" y="1158.0" width="13" height="39.0" fill="#f37373"/>
<rect x="1942.1" y="1146.0" width="2.6" height="88.0" fill="#4acf97"/>
<rect x="1936.9" y="1190.0" width="13" height="5.0" fill="#4acf97"/>
<rect x="1956.6" y="1154.7" width="2.6" height="70.3" fill="#f37373"/>
<rect x="1951.4" y="1190.0" width="13" height="9.0" fill="#f37373"/>
<rect x="1971.2" y="1151.0" width="2.6" height="72.6" fill="#4acf97"/>
<rect x="1966.0" y="1158.0" width="13" height="41.0" fill="#4acf97"/>
<rect x="1985.7" y="1137.0" width="2.6" height="46.0" fill="#f37373"/>
<rect x="1980.5" y="1158.0" width="13" height="12.6" fill="#f37373"/>
<rect x="2000.2" y="1127.7" width="2.6" height="42.3" fill="#4acf97"/>
<rect x="1995.0" y="1148.8" width="13" height="21.2" fill="#4acf97"/>
<rect x="2014.7" y="1134.7" width="2.6" height="33.3" fill="#f37373"/>
<rect x="2009.5" y="1148.8" width="13" height="15.9" fill="#f37373"/>
<rect x="2029.3" y="1147.0" width="2.6" height="35.4" fill="#4acf97"/>
<rect x="2024.1" y="1162.0" width="13" height="3.0" fill="#4acf97"/>
<rect x="2043.8" y="1124.0" width="2.6" height="49.6" fill="#4acf97"/>
<rect x="2038.6" y="1143.6" width="13" height="21.1" fill="#4acf97"/>
<rect x="2058.3" y="1124.0" width="2.6" height="26.6" fill="#4acf97"/>
<rect x="2053.1" y="1133.0" width="13" height="12.0" fill="#4acf97"/>
<rect x="2072.8" y="1028.8" width="2.6" height="125.2" fill="#4acf97"/>
<rect x="2067.6" y="1080.0" width="13" height="54.7" fill="#4acf97"/>
<rect x="2087.3" y="1002.0" width="2.6" height="92.0" fill="#4acf97"/>
<rect x="2082.2" y="1025.0" width="13" height="56.8" fill="#4acf97"/>
<rect x="2101.9" y="1016.5" width="2.6" height="47.5" fill="#f37373"/>
<rect x="2096.7" y="1025.0" width="13" height="25.0" fill="#f37373"/>
<rect x="2116.4" y="1044.7" width="2.6" height="42.3" fill="#f37373"/>
<rect x="2111.2" y="1048.0" width="13" height="12.6" fill="#f37373"/>
<rect x="2130.9" y="1023.5" width="2.6" height="38.2" fill="#4acf97"/>
<rect x="2125.7" y="1023.5" width="13" height="38.2" fill="#4acf97"/>
<rect x="2145.4" y="953.0" width="2.6" height="363.7" fill="#f37373"/>
<rect x="2140.2" y="1023.5" width="13" height="243.3" fill="#f37373"/>
<rect x="2160.0" y="1205.0" width="2.6" height="144.6" fill="#4acf97"/>
<rect x="2154.8" y="1211.0" width="13" height="55.8" fill="#4acf97"/>
<rect x="2174.5" y="1096.0" width="2.6" height="133.4" fill="#4acf97"/>
<rect x="2169.3" y="1143.6" width="13" height="69.9" fill="#4acf97"/>
<rect x="2189.0" y="1104.7" width="2.6" height="99.7" fill="#f37373"/>
<rect x="2183.8" y="1143.6" width="13" height="38.2" fill="#f37373"/>
<rect x="2203.6" y="1118.8" width="2.6" height="159.2" fill="#4acf97"/>
<rect x="2198.4" y="1118.8" width="13" height="63.0" fill="#4acf97"/>
<rect x="2218.1" y="982.0" width="2.6" height="138.6" fill="#4acf97"/>
<rect x="2212.9" y="1026.7" width="13" height="93.9" fill="#4acf97"/>
<rect x="2232.6" y="1012.0" width="2.6" height="78.6" fill="#4acf97"/>
<rect x="2227.4" y="1022.0" width="13" height="6.0" fill="#4acf97"/>
<rect x="2247.1" y="1012.0" width="2.6" height="73.8" fill="#f37373"/>
<rect x="2241.9" y="1022.0" width="13" height="63.8" fill="#f37373"/>
<rect x="2261.6" y="1054.0" width="2.6" height="46.0" fill="#4acf97"/>
<rect x="2256.4" y="1074.6" width="13" height="11.2" fill="#4acf97"/>
<rect x="2276.2" y="962.8" width="2.6" height="121.2" fill="#4acf97"/>
<rect x="2271.0" y="982.0" width="13" height="92.6" fill="#4acf97"/>
<rect x="2290.7" y="945.0" width="2.6" height="59.0" fill="#f37373"/>
<rect x="2285.5" y="982.0" width="13" height="22.0" fill="#f37373"/>
<rect x="2305.2" y="793.5" width="2.6" height="210.5" fill="#4acf97"/>
<rect x="2300.0" y="819.0" width="13" height="185.0" fill="#4acf97"/>
<rect x="2319.8" y="760.0" width="2.6" height="95.8" fill="#4acf97"/>
<rect x="2314.6" y="804.7" width="13" height="14.3" fill="#4acf97"/>
<rect x="2334.3" y="756.7" width="2.6" height="84.7" fill="#f37373"/>
<rect x="2329.1" y="804.7" width="13" height="36.7" fill="#f37373"/>
</g>
<path d="M925 842 H2490" stroke="#f07474" stroke-width="2" stroke-dasharray="5 3.5"/>
<rect x="2489.4" y="389" width="2.2" height="1020" fill="#555"/>
<rect x="923" y="1407" width="1568" height="2.8" fill="#555"/>
<rect x="2491" y="433.4" width="9" height="2" fill="#555"/>
<rect x="2491" y="537.2" width="9" height="2" fill="#555"/>
<rect x="2491" y="641.0" width="9" height="2" fill="#555"/>
<rect x="2491" y="744.7" width="9" height="2" fill="#555"/>
<rect x="2491" y="848.5" width="9" height="2" fill="#555"/>
<rect x="2491" y="952.3" width="9" height="2" fill="#555"/>
<rect x="2491" y="1056.1" width="9" height="2" fill="#555"/>
<rect x="2491" y="1159.9" width="9" height="2" fill="#555"/>
<rect x="2491" y="1263.6" width="9" height="2" fill="#555"/>
<rect x="2491" y="1367.4" width="9" height="2" fill="#555"/>
<rect x="1130.4" y="1408" width="2.4" height="9" fill="#555"/>
<rect x="1479.5" y="1408" width="2.4" height="9" fill="#555"/>
<rect x="1827.8" y="1408" width="2.4" height="9" fill="#555"/>
<rect x="2176.2" y="1408" width="2.4" height="9" fill="#555"/>
<rect x="2438.2" y="1408" width="2.4" height="9" fill="#555"/>
<rect x="2489.4" y="820.6" width="155.3" height="44.7" fill="#f37373"/>
<rect x="2491" y="841" width="6" height="2" fill="#fff"/>
<rect x="941.6" y="424.5" width="33" height="33" rx="4" fill="none" stroke="#555" stroke-width="2"/>
<rect x="947" y="439.5" width="22" height="2.5" fill="#555"/>
<path d="M1320 438 H1340 L1330 450 Z" fill="#bdbdbd"/>
<rect x="1369.6" y="422.8" width="38.4" height="39.2" fill="#d9d9d9"/><circle cx="1388.8" cy="442.40000000000003" r="9" fill="none" stroke="#fff" stroke-width="5" stroke-dasharray="4 3.07"/><circle cx="1388.8" cy="442.40000000000003" r="7" fill="none" stroke="#fff" stroke-width="3"/>
<path d="M1134 500 H1152 L1143 510 Z" fill="#bdbdbd"/>
<rect x="1182" y="480" width="39" height="38.6" fill="#d9d9d9"/><circle cx="1201.5" cy="499.3" r="9" fill="none" stroke="#fff" stroke-width="5" stroke-dasharray="4 3.07"/><circle cx="1201.5" cy="499.3" r="7" fill="none" stroke="#fff" stroke-width="3"/>
<rect x="1230" y="480" width="40" height="38.6" fill="#d9d9d9"/><path d="M1238 488 L1262 511 M1262 488 L1238 511" stroke="#fff" stroke-width="3"/>
<g fill="#4db3e6"><path d="M972 1350 C964 1350 963 1338 971 1336 C972 1328 981 1325 986 1330 C990 1321 1004 1320 1009 1330 C1012 1331 1015 1333 1015 1337 C1025 1337 1026 1353 1017 1354 H975 C972 1354 972 1350 972 1350 Z"/></g>
<path d="M973 1351 L989 1337 L1000 1352 L1013 1335" fill="none" stroke="#fff" stroke-width="3.4"/>
<circle cx="2589.4" cy="1491.1" r="9.5" fill="none" stroke="#555" stroke-width="3.4"/><polygon points="2589.4,1474.1 2593.0,1481.1 2585.8,1481.1" fill="#555"/><polygon points="2601.4,1479.1 2599.0,1486.6 2593.9,1481.5" fill="#555"/><polygon points="2606.4,1491.1 2599.4,1494.7 2599.4,1487.5" fill="#555"/><polygon points="2601.4,1503.1 2593.9,1500.7 2599.0,1495.6" fill="#555"/><polygon points="2589.4,1508.1 2585.8,1501.1 2593.0,1501.1" fill="#555"/><polygon points="2577.4,1503.1 2579.8,1495.6 2584.9,1500.7" fill="#555"/><polygon points="2572.4,1491.1 2579.4,1487.5 2579.4,1494.7" fill="#555"/><polygon points="2577.4,1479.1 2584.9,1481.5 2579.8,1486.6" fill="#555"/>
<path d="M2751.5 601 V632 M2741 622 L2751.5 632.5 L2762 622" fill="none" stroke="#6b7280" stroke-width="4"/>
<rect x="2735.6" y="865.6" width="30" height="15.8" rx="1" fill="#6b7280"/><ellipse cx="2750.4" cy="873.6" rx="10" ry="4.6" fill="none" stroke="#e2e4ea" stroke-width="2"/><rect x="2744" y="872.4" width="2" height="2.4" fill="#e2e4ea"/><rect x="2749.4" y="872.4" width="2" height="2.4" fill="#e2e4ea"/><rect x="2754.8" y="872.4" width="2" height="2.4" fill="#e2e4ea"/><rect x="2748.4" y="854.5" width="4" height="8.5" fill="#6b7280"/><polygon points="2745.6,856 2755.2,856 2750.4,849.3" fill="#6b7280"/><rect x="2739" y="859" width="2.4" height="4.4" fill="#6b7280"/><polygon points="2737.4,860.2 2743,860.2 2740.2,856.2" fill="#6b7280"/><rect x="2758.9" y="859" width="2.4" height="4.4" fill="#6b7280"/><polygon points="2757.3,860.2 2762.9,860.2 2760.1,856.2" fill="#6b7280"/>
</svg>
<div class="t" style="left:130.5px;top:25.4px;font-size:45.06px;letter-spacing:0.81px;color:#111;font-weight:400;-webkit-text-stroke:1.0px #111">BTC to AUD</div>
<div class="t" style="left:130.5px;top:93.0px;font-size:33.43px;letter-spacing:1.15px;color:#1f3db8;font-weight:400">Change Market</div>
<div class="t" style="left:641.7px;top:26.4px;font-size:42.15px;letter-spacing:0.93px;color:#111;font-weight:400;-webkit-text-stroke:1.35px #111">$30517.68</div>
<div class="t" style="left:641.0px;top:76.9px;font-size:31.98px;letter-spacing:0.26px;color:#66708a;font-weight:400">Today's Open</div>
<div class="t" style="left:1235.1px;top:26.4px;font-size:42.15px;letter-spacing:2.14px;color:#111;font-weight:400;-webkit-text-stroke:1.35px #111">$30756.39</div>
<div class="t" style="left:1233.4px;top:76.9px;font-size:31.98px;letter-spacing:0.55px;color:#66708a;font-weight:400">24 Hour High</div>
<div class="t" style="left:1830.5px;top:26.4px;font-size:42.15px;letter-spacing:0.93px;color:#111;font-weight:400;-webkit-text-stroke:1.35px #111">$30152.88</div>
<div class="t" style="left:1827.8px;top:76.9px;font-size:31.98px;letter-spacing:-0.61px;color:#66708a;font-weight:400">Last</div>
<div class="t" style="left:2424.1px;top:26.4px;font-size:42.15px;letter-spacing:0.93px;color:#111;font-weight:400;-webkit-text-stroke:1.35px #111">$29992.71</div>
<div class="t" style="left:2421.4px;top:76.9px;font-size:31.98px;letter-spacing:0.29px;color:#66708a;font-weight:400">Bid</div>
<div class="t" style="left:3018.1px;top:26.4px;font-size:42.15px;letter-spacing:0.93px;color:#111;font-weight:400;-webkit-text-stroke:1.35px #111">$30147.40</div>
<div class="t" style="left:3017.4px;top:76.9px;font-size:31.98px;letter-spacing:-1.80px;color:#66708a;font-weight:400">Ask</div>
<div class="t" style="left:91.0px;top:272.9px;font-size:40.7px;letter-spacing:0.81px;color:#111;font-weight:400;-webkit-text-stroke:1.0px #111">Order Book</div>
<div class="t" style="left:87.2px;top:424.2px;font-size:31.25px;letter-spacing:0.85px;color:#6b7287;font-weight:400;-webkit-text-stroke:1.0px #6b7287">AMOUNT (BTC)</div>
<div class="t" style="left:383.5px;top:424.2px;font-size:31.25px;letter-spacing:0.10px;color:#6b7287;font-weight:400;-webkit-text-stroke:1.0px #6b7287">RATE (AUD)</div>
<div class="t" style="left:614.5px;top:424.2px;font-size:31.25px;letter-spacing:0.61px;color:#6b7287;font-weight:400;-webkit-text-stroke:1.0px #6b7287">TOTAL (AUD)</div>
<div class="t" style="left:85.5px;top:501.2px;font-size:29.8px;letter-spacing:1.73px;color:#f01c24;font-weight:400">0.3</div>
<div class="t" style="left:385.5px;top:501.2px;font-size:29.8px;letter-spacing:0.81px;color:#5f6677;font-weight:400">$30201.44</div>
<div class="t" style="left:615.0px;top:501.2px;font-size:29.8px;letter-spacing:1.71px;color:#5f6677;font-weight:400">$9060.43</div>
<div class="t" style="left:85.5px;top:576.1px;font-size:29.8px;letter-spacing:1.40px;color:#f01c24;font-weight:400">0.63259284</div>
<div class="t" style="left:385.5px;top:576.1px;font-size:29.8px;letter-spacing:1.66px;color:#5f6677;font-weight:400">$30209.44</div>
<div class="t" style="left:615.0px;top:576.1px;font-size:29.8px;letter-spacing:-0.62px;color:#5f6677;font-weight:400">$19110.28</div>
<div class="t" style="left:85.5px;top:651.0px;font-size:29.8px;letter-spacing:1.43px;color:#f01c24;font-weight:400">2.500685</div>
<div class="t" style="left:385.5px;top:651.0px;font-size:29.8px;letter-spacing:1.66px;color:#5f6677;font-weight:400">$30448.96</div>
<div class="t" style="left:615.0px;top:651.0px;font-size:29.8px;letter-spacing:0.81px;color:#5f6677;font-weight:400">$76143.26</div>
<div class="t" style="left:85.5px;top:726.0px;font-size:29.8px;letter-spacing:-0.11px;color:#f01c24;font-weight:400">0.25414701</div>
<div class="t" style="left:385.5px;top:726.0px;font-size:29.8px;letter-spacing:1.66px;color:#5f6677;font-weight:400">$30456.96</div>
<div class="t" style="left:615.0px;top:726.0px;font-size:29.8px;letter-spacing:1.71px;color:#5f6677;font-weight:400">$7740.55</div>
<div class="t" style="left:85.5px;top:800.9px;font-size:29.8px;letter-spacing:1.52px;color:#f01c24;font-weight:400">0.999</div>
<div class="t" style="left:385.5px;top:800.9px;font-size:29.8px;letter-spacing:1.66px;color:#5f6677;font-weight:400">$30460.00</div>
<div class="t" style="left:615.0px;top:800.9px;font-size:29.8px;letter-spacing:1.66px;color:#5f6677;font-weight:400">$30429.54</div>
<div class="t" style="left:85.5px;top:875.9px;font-size:29.8px;letter-spacing:1.40px;color:#f01c24;font-weight:400">0.64443622</div>
<div class="t" style="left:385.5px;top:875.9px;font-size:29.8px;letter-spacing:1.66px;color:#5f6677;font-weight:400">$30500.00</div>
<div class="t" style="left:615.0px;top:875.9px;font-size:29.8px;letter-spacing:0.81px;color:#5f6677;font-weight:400">$19655.30</div>
<div class="t" style="left:85.5px;top:950.8px;font-size:29.8px;letter-spacing:0.64px;color:#f01c24;font-weight:400">0.01330975</div>
<div class="t" style="left:385.5px;top:950.8px;font-size:29.8px;letter-spacing:1.66px;color:#5f6677;font-weight:400">$30600.00</div>
<div class="t" style="left:615.0px;top:950.8px;font-size:29.8px;letter-spacing:1.78px;color:#5f6677;font-weight:400">$407.28</div>
<div class="t" style="left:85.5px;top:1025.7px;font-size:29.8px;letter-spacing:1.40px;color:#f01c24;font-weight:400">0.43952344</div>
<div class="t" style="left:385.5px;top:1025.7px;font-size:29.8px;letter-spacing:1.66px;color:#5f6677;font-weight:400">$30700.00</div>
<div class="t" style="left:615.0px;top:1025.7px;font-size:29.8px;letter-spacing:0.81px;color:#5f6677;font-weight:400">$13493.37</div>
<div class="t" style="left:85.5px;top:1100.7px;font-size:29.8px;letter-spacing:-1.67px;color:#f01c24;font-weight:400">0.1</div>
<div class="t" style="left:385.5px;top:1100.7px;font-size:29.8px;letter-spacing:1.66px;color:#5f6677;font-weight:400">$30750.00</div>
<div class="t" style="left:615.0px;top:1100.7px;font-size:29.8px;letter-spacing:1.71px;color:#5f6677;font-weight:400">$3075.00</div>
<div class="t" style="left:85.5px;top:1175.6px;font-size:29.8px;letter-spacing:1.40px;color:#f01c24;font-weight:400">0.00223348</div>
<div class="t" style="left:385.5px;top:1175.6px;font-size:29.8px;letter-spacing:1.66px;color:#5f6677;font-weight:400">$30900.00</div>
<div class="t" style="left:615.0px;top:1175.6px;font-size:29.8px;letter-spacing:0.51px;color:#5f6677;font-weight:400">$69.01</div>
<div class="t" style="left:85.5px;top:1250.6px;font-size:29.8px;letter-spacing:0.64px;color:#f01c24;font-weight:400">0.09677419</div>
<div class="t" style="left:385.5px;top:1250.6px;font-size:29.8px;letter-spacing:0.81px;color:#5f6677;font-weight:400">$31000.00</div>
<div class="t" style="left:615.0px;top:1250.6px;font-size:29.8px;letter-spacing:1.71px;color:#5f6677;font-weight:400">$3000.00</div>
<div class="t" style="left:85.5px;top:1325.5px;font-size:29.8px;letter-spacing:0.64px;color:#f01c24;font-weight:400">0.02000213</div>
<div class="t" style="left:385.5px;top:1325.5px;font-size:29.8px;letter-spacing:0.81px;color:#5f6677;font-weight:400">$31350.00</div>
<div class="t" style="left:615.0px;top:1325.5px;font-size:29.8px;letter-spacing:1.78px;color:#5f6677;font-weight:400">$627.07</div>
<div class="t" style="left:85.5px;top:1400.4px;font-size:29.8px;letter-spacing:1.40px;color:#f01c24;font-weight:400">0.64457632</div>
<div class="t" style="left:385.5px;top:1400.4px;font-size:29.8px;letter-spacing:0.81px;color:#5f6677;font-weight:400">$31500.00</div>
<div class="t" style="left:615.0px;top:1400.4px;font-size:29.8px;letter-spacing:0.81px;color:#5f6677;font-weight:400">$20304.15</div>
<div class="t" style="left:85.5px;top:1475.4px;font-size:29.8px;letter-spacing:-0.11px;color:#f01c24;font-weight:400">0.01917649</div>
<div class="t" style="left:385.5px;top:1475.4px;font-size:29.8px;letter-spacing:0.81px;color:#5f6677;font-weight:400">$31799.00</div>
<div class="t" style="left:615.0px;top:1475.4px;font-size:29.8px;letter-spacing:1.78px;color:#5f6677;font-weight:400">$609.79</div>
<div class="t" style="left:85.5px;top:1550.3px;font-size:29.8px;letter-spacing:-0.87px;color:#f01c24;font-weight:400">0.17219391</div>
<div class="t" style="left:385.5px;top:1550.3px;font-size:29.8px;letter-spacing:0.81px;color:#5f6677;font-weight:400">$31800.00</div>
<div class="t" style="left:615.0px;top:1550.3px;font-size:29.8px;letter-spacing:1.71px;color:#5f6677;font-weight:400">$5475.77</div>
<div class="t" style="left:960.2px;top:280.1px;font-size:31.25px;letter-spacing:0.00px;color:#222;font-weight:400">1D</div>
<div class="t" style="left:1068.5px;top:280.1px;font-size:31.25px;letter-spacing:0.62px;color:#2b8ad6;font-weight:400">1h</div>
<div class="t" style="left:2396.3px;top:261.9px;font-size:34.88px;letter-spacing:-0.40px;color:#fff;font-weight:400;-webkit-text-stroke:0.55px #fff">Price</div>
<div class="t" style="left:2526.3px;top:261.9px;font-size:34.88px;letter-spacing:0.20px;color:#2446b5;font-weight:400;-webkit-text-stroke:0.55px #2446b5">Depth</div>
<div class="t" style="left:2508.0px;top:386.3px;font-size:31.98px;letter-spacing:-0.94px;color:#777;font-weight:400">32000.00</div>
<div class="t" style="left:2508.0px;top:490.1px;font-size:31.98px;letter-spacing:-0.94px;color:#777;font-weight:400">31600.00</div>
<div class="t" style="left:2508.0px;top:593.9px;font-size:31.98px;letter-spacing:-0.94px;color:#777;font-weight:400">31200.00</div>
<div class="t" style="left:2508.0px;top:697.7px;font-size:31.98px;letter-spacing:-0.94px;color:#777;font-weight:400">30800.00</div>
<div class="t" style="left:2508.0px;top:905.2px;font-size:31.98px;letter-spacing:-0.94px;color:#777;font-weight:400">30000.00</div>
<div class="t" style="left:2508.0px;top:1009.0px;font-size:31.98px;letter-spacing:-0.94px;color:#777;font-weight:400">29600.00</div>
<div class="t" style="left:2508.0px;top:1112.8px;font-size:31.98px;letter-spacing:-0.94px;color:#777;font-weight:400">29200.00</div>
<div class="t" style="left:2508.0px;top:1216.6px;font-size:31.98px;letter-spacing:-0.94px;color:#777;font-weight:400">28800.00</div>
<div class="t" style="left:2508.0px;top:1320.3px;font-size:31.98px;letter-spacing:-0.94px;color:#777;font-weight:400">28400.00</div>
<div class="t" style="left:2509.0px;top:793.2px;font-size:31.54px;letter-spacing:-0.93px;color:#fff;font-weight:400">30435.08</div>
<div class="t" style="left:1115.6px;top:1389.2px;font-size:29.8px;letter-spacing:-0.23px;color:#555;font-weight:700">11</div>
<div class="t" style="left:1462.3px;top:1389.2px;font-size:29.8px;letter-spacing:1.93px;color:#555;font-weight:700">12</div>
<div class="t" style="left:1811.3px;top:1389.2px;font-size:29.8px;letter-spacing:1.93px;color:#555;font-weight:700">13</div>
<div class="t" style="left:2159.7px;top:1389.2px;font-size:29.8px;letter-spacing:0.93px;color:#555;font-weight:700">14</div>
<div class="t" style="left:2400.7px;top:1389.2px;font-size:29.8px;letter-spacing:0.75px;color:#666;font-weight:400">18:00</div>
<div class="t" style="left:992.0px;top:393.4px;font-size:45.06px;letter-spacing:1.22px;color:#333;font-weight:400">Bitcoin, 60, CS</div>
<div class="t" style="left:1430.0px;top:394.7px;font-size:32.7px;letter-spacing:0.00px;color:#333;font-weight:400">O</div>
<div class="t" style="left:1462.7px;top:394.7px;font-size:32.7px;letter-spacing:-0.22px;color:#f05a5a;font-weight:400">30573.13</div>
<div class="t" style="left:1614.5px;top:394.7px;font-size:32.7px;letter-spacing:0.00px;color:#555;font-weight:400">H</div>
<div class="t" style="left:1647.4px;top:394.7px;font-size:32.7px;letter-spacing:-0.44px;color:#f05a5a;font-weight:400">30756.39</div>
<div class="t" style="left:1798.6px;top:394.7px;font-size:32.7px;letter-spacing:0.00px;color:#333;font-weight:400">L</div>
<div class="t" style="left:1825.0px;top:394.7px;font-size:32.7px;letter-spacing:-0.25px;color:#f05a5a;font-weight:400">30424.43</div>
<div class="t" style="left:1977.0px;top:394.7px;font-size:32.7px;letter-spacing:0.00px;color:#333;font-weight:400">C</div>
<div class="t" style="left:2006.0px;top:394.7px;font-size:32.7px;letter-spacing:-0.07px;color:#f05a5a;font-weight:400">30435.08</div>
<div class="t" style="left:940.0px;top:448.9px;font-size:34.16px;letter-spacing:-0.48px;color:#333;font-weight:400">Volume (20)</div>
<div class="t" style="left:1291.0px;top:448.9px;font-size:34.16px;letter-spacing:0.00px;color:#f05a5a;font-weight:400">0</div>
<div class="t" style="left:1327.0px;top:448.9px;font-size:34.16px;letter-spacing:-1.15px;color:#33a3e0;font-weight:400">39.857M</div>
<div class="t" style="left:1048.5px;top:1289.9px;font-size:40.7px;letter-spacing:-0.74px;color:#4db3e6;font-weight:400">charts by TradingView</div>
<div class="t" style="left:963.0px;top:1440.9px;font-size:31.98px;letter-spacing:-0.78px;color:#555;font-weight:400">2y</div>
<div class="t" style="left:1071.0px;top:1440.9px;font-size:31.98px;letter-spacing:-1.08px;color:#555;font-weight:400">1y</div>
<div class="t" style="left:1178.5px;top:1440.9px;font-size:31.98px;letter-spacing:-0.78px;color:#555;font-weight:400">6m</div>
<div class="t" style="left:1296.0px;top:1440.9px;font-size:31.98px;letter-spacing:-0.28px;color:#555;font-weight:400">3m</div>
<div class="t" style="left:1413.4px;top:1440.9px;font-size:31.98px;letter-spacing:0.22px;color:#555;font-weight:400">1m</div>
<div class="t" style="left:1530.4px;top:1440.9px;font-size:31.98px;letter-spacing:-0.78px;color:#555;font-weight:400">1w</div>
<div class="t" style="left:1647.5px;top:1440.9px;font-size:31.98px;letter-spacing:-0.28px;color:#555;font-weight:400">1d</div>
<div class="t" style="left:1880.0px;top:1440.9px;font-size:31.98px;letter-spacing:-0.18px;color:#555;font-weight:400">11:39:29 (UTC+10)</div>
<div class="t" style="left:2221.8px;top:1440.9px;font-size:31.98px;letter-spacing:0.00px;color:#555;font-weight:400">%</div>
<div class="t" style="left:2316.0px;top:1440.9px;font-size:31.98px;letter-spacing:1.06px;color:#555;font-weight:400">log</div>
<div class="t" style="left:2431.4px;top:1441.1px;font-size:31.5px;letter-spacing:1.27px;color:#2fa3d9;font-weight:400">auto</div>
<div class="t" style="left:2860.3px;top:280.9px;font-size:41.57px;letter-spacing:-1.69px;color:#fff;font-weight:400;-webkit-text-stroke:0.55px #fff">Buy</div>
<div class="t" style="left:3300.6px;top:280.9px;font-size:41.57px;letter-spacing:-0.59px;color:#333;font-weight:400">Sell</div>
<div class="t" style="left:2765.9px;top:419.1px;font-size:39.24px;letter-spacing:1.28px;color:#111;font-weight:400;-webkit-text-stroke:1.0px #111">Buy BTC / AUD</div>
<div class="t" style="left:2815.5px;top:557.4px;font-size:33.43px;letter-spacing:-0.73px;color:#6b7490;font-weight:400">Available AUD Balance</div>
<div class="t" style="left:2816.0px;top:628.2px;font-size:42.15px;letter-spacing:3.21px;color:#111;font-weight:400">$ 0.00</div>
<div class="t" style="left:3252.8px;top:636.4px;font-size:36.34px;letter-spacing:-0.09px;color:#fff;font-weight:400;-webkit-text-stroke:0.55px #fff">Deposit funds</div>
<div class="t" style="left:2812.5px;top:811.0px;font-size:33.43px;letter-spacing:0.33px;color:#6b7490;font-weight:400">I would like to buy:</div>
<div class="t" style="left:2846.0px;top:901.4px;font-size:36.34px;letter-spacing:3.40px;color:#111;font-weight:400">0.00000000</div>
<div class="t" style="left:3340.8px;top:901.9px;font-size:47.09px;letter-spacing:-4.60px;color:#fff;font-weight:400;-webkit-text-stroke:0.55px #fff">BTC</div>
<div class="t" style="left:2815.5px;top:1061.9px;font-size:33.43px;letter-spacing:0.22px;color:#6b7490;font-weight:400">At the rate of:</div>
<div class="t" style="left:2845.0px;top:1154.9px;font-size:37.79px;letter-spacing:0.42px;color:#111;font-weight:400">30166.80</div>
<div class="t" style="left:3375.5px;top:1155.2px;font-size:45.06px;letter-spacing:-1.19px;color:#c0ccd8;font-weight:400">AUD</div>
<div class="t" style="left:2814.4px;top:1249.6px;font-size:38.66px;letter-spacing:1.29px;color:#555;font-weight:400">≈ $0 AUD</div>
<div class="t" style="left:2969.6px;top:1476.4px;font-size:39.24px;letter-spacing:0.96px;color:#2a4be6;font-weight:400">Create Pegged Order</div>
</div></body></html>
